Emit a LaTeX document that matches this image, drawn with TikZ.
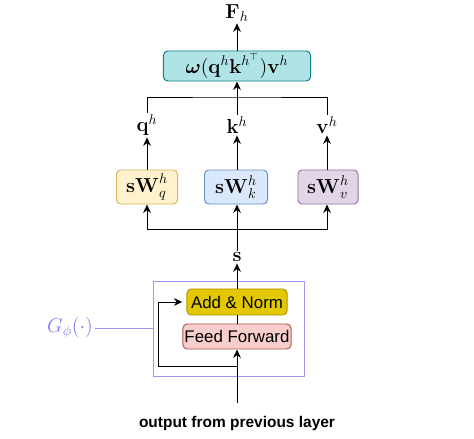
\documentclass[tikz,border=0pt]{standalone}
\usepackage{amsmath,amssymb,bm}
\usepackage[no-math]{fontspec}
\setmainfont{Liberation Sans}
\usetikzlibrary{arrows.meta}

\definecolor{attfill}{HTML}{B0E3E6}
\definecolor{attline}{HTML}{0E8088}
\definecolor{qfill}{HTML}{FFF2CC}
\definecolor{qline}{HTML}{D6B656}
\definecolor{kfill}{HTML}{DAE8FC}
\definecolor{kline}{HTML}{6C8EBF}
\definecolor{vfill}{HTML}{E1D5E7}
\definecolor{vline}{HTML}{9673A6}
\definecolor{anfill}{HTML}{E3C800}
\definecolor{anline}{HTML}{B09500}
\definecolor{fffill}{HTML}{F8CECC}
\definecolor{ffline}{HTML}{B85450}
\definecolor{gblue}{HTML}{8080F0}

\tikzset{
  block/.style={rounded corners=3pt, line width=0.7pt, inner sep=0pt, align=center},
  mlabel/.style={font=\Large, inner sep=1pt},
}

\begin{document}
\begin{tikzpicture}[x=0.025cm, y=-0.025cm, >={Stealth[length=6pt,width=5.5pt]}, line width=0.7pt]
    \useasboundingbox (0,0) rectangle (474,439);

    % attention block and output
    \node[mlabel] (Fh) at (237,13) {$\mathbf{F}_h$};
    \node[block, fill=attfill, draw=attline, minimum width=3.675cm, minimum height=0.75cm, font=\Large] (att) at (237,66)
      {$\bm{\omega}(\mathbf{q}^h\mathbf{k}^{h^\top})\mathbf{v}^h$};
    \draw [->] (att.north) -- (Fh.south);

    % q, k, v
    \node[mlabel] (q) at (147,125) {$\mathbf{q}^h$};
    \node[mlabel] (k) at (237,125) {$\mathbf{k}^h$};
    \node[mlabel] (v) at (327,125) {$\mathbf{v}^h$};
    \coordinate (join) at (237,97);
    \draw (q.north) |- (join) -| (v.north);
    \draw (k.north) -- (join);
    \draw [->] (join) -- (att.south);

    % projections
    \node[block, fill=qfill, draw=qline, minimum width=1.525cm, minimum height=0.85cm, font=\Large] (Wq) at (147,187) {$\mathbf{sW}^h_q$};
    \node[block, fill=kfill, draw=kline, minimum width=1.575cm, minimum height=0.85cm, font=\Large] (Wk) at (236,187) {$\mathbf{sW}^h_k$};
    \node[block, fill=vfill, draw=vline, minimum width=1.5cm, minimum height=0.85cm, font=\Large] (Wv) at (328,187) {$\mathbf{sW}^h_v$};
    \draw [->] (Wq.north) -- (q.south);
    \draw [->] (Wk.north -| k) -- (k.south);
    \draw [->] (Wv.north -| v) -- (v.south);

    % s and split
    \node[mlabel] (s) at (237,257) {$\mathbf{s}$};
    \coordinate (split) at (237,229);
    \draw (s.north) -- (split);
    \draw [->] (split) -| (Wq.south);
    \draw [->] (split) -- (split |- Wk.south);
    \draw [->] (split) -| (v |- Wv.south);

    % G_phi block
    \draw [gblue!80] (153,281) rectangle (304,376);
    \coordinate (gwest) at (153,328);
    \node[font=\Large, text=gblue, inner sep=1pt] (G) at (70,328) {$G_\phi(\cdot)$};
    \draw [gblue!80] (G.east) -- (gwest);

    \node[block, fill=anfill, draw=anline, minimum width=2.5cm, minimum height=0.65cm, font=\fontsize{12}{14}\selectfont] (an) at (237,302) {Add \& Norm};
    \node[block, fill=fffill, draw=ffline, minimum width=2.7cm, minimum height=0.625cm, font=\fontsize{12}{14}\selectfont] (ff) at (237,336.5) {Feed Forward};
    \draw [->] (an.north) -- (s.south);
    \draw (ff.north) -- (an.south);

    % input and residual
    \node[font=\bfseries\fontsize{11}{13}\selectfont] (out) at (237,423) {output from previous layer};
    \coordinate (in) at (237,403);
    \coordinate (res) at (237,366);
    \draw [->] (in) -- (ff.south);
    \draw [->] (res) -- (158,366) |- ([xshift=-3pt]an.west);
\end{tikzpicture}
\end{document}
